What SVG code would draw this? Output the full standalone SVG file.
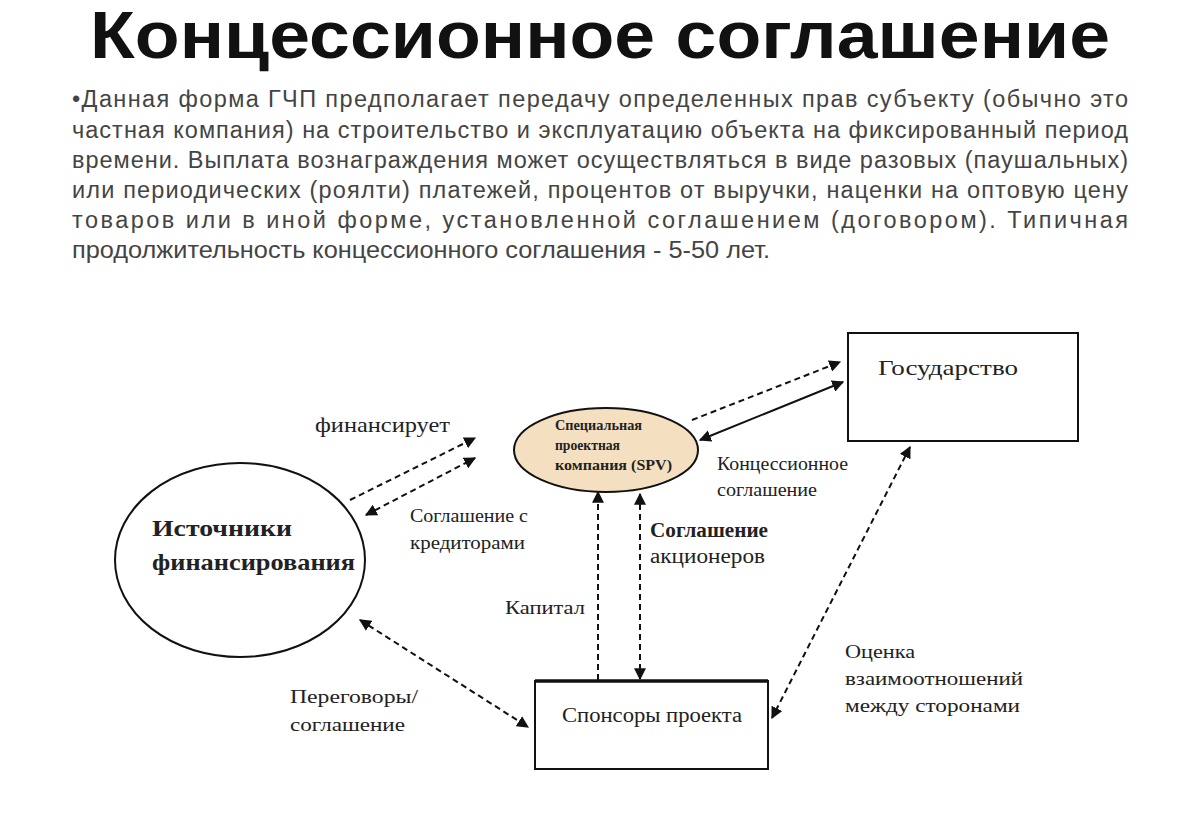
<svg xmlns="http://www.w3.org/2000/svg" width="1200" height="823" viewBox="0 0 1200 823">
<style>
.t{font-family:"Liberation Serif",serif;fill:#222}
.p{font-family:"Liberation Sans",Arial,sans-serif;font-size:23.5px;fill:#444}
.l{fill:none;stroke:#111;stroke-width:2;stroke-dasharray:6 4}
.s{fill:none;stroke:#111;stroke-width:2}
.n{fill:#fff;stroke:#111;stroke-width:2}
</style>
<defs>
<marker id="a" viewBox="0 0 10 10" refX="9" refY="5" markerWidth="6" markerHeight="6" orient="auto-start-reverse"><path d="M0,0L10,5L0,10z" fill="#111"/></marker>
</defs>
<rect width="1200" height="823" fill="#fff"/>
<text x="600" y="58" text-anchor="middle" font-family="Liberation Sans,Arial,sans-serif" font-weight="bold" font-size="66" fill="#111" textLength="1020" lengthAdjust="spacingAndGlyphs">Концессионное соглашение</text>
<text class="p" x="72" y="107" textLength="1056">•Данная форма ГЧП предполагает передачу определенных прав субъекту (обычно это</text>
<text class="p" x="72" y="138" textLength="1056">частная компания) на строительство и эксплуатацию объекта на фиксированный период</text>
<text class="p" x="72" y="168" textLength="1056">времени.  Выплата вознаграждения может осуществляться в виде разовых (паушальных)</text>
<text class="p" x="72" y="198" textLength="1056">или периодических (роялти) платежей, процентов от выручки, наценки на оптовую цену</text>
<text class="p" x="72" y="228" textLength="1056">товаров или в иной форме, установленной соглашением (договором). Типичная</text>
<text class="p" x="72" y="258" textLength="698" lengthAdjust="spacingAndGlyphs">продолжительность концессионного соглашения  - 5-50 лет.</text>
<g id="connectors">
<path class="l" d="M350,500L475,438" marker-end="url(#a)"/>
<path class="l" d="M366,515L475,458" marker-start="url(#a)" marker-end="url(#a)"/>
<path class="l" d="M692,420L840,362" marker-end="url(#a)"/>
<path class="s" d="M700,440L843,382" marker-start="url(#a)" marker-end="url(#a)"/>
<path class="l" d="M598,680L598,492" marker-end="url(#a)"/>
<path class="l" d="M640,494L640,679" marker-start="url(#a)" marker-end="url(#a)"/>
<path class="l" d="M360,620L528,727" marker-start="url(#a)" marker-end="url(#a)"/>
<path class="l" d="M910,447L772,718" marker-start="url(#a)" marker-end="url(#a)"/>
</g>
<g id="sources"><ellipse class="n" cx="240" cy="560" rx="125" ry="97"/>
<text class="t" x="152" y="536" font-weight="bold" font-size="23" textLength="140" lengthAdjust="spacingAndGlyphs">Источники</text>
<text class="t" x="152" y="570" font-weight="bold" font-size="23" textLength="203" lengthAdjust="spacingAndGlyphs">финансирования</text></g>
<g id="spv"><ellipse cx="606" cy="450" rx="92" ry="42" fill="#f4dfc1" stroke="#111" stroke-width="2"/>
<text class="t" x="555" y="430" font-weight="bold" font-size="15" textLength="87" lengthAdjust="spacingAndGlyphs">Специальная</text>
<text class="t" x="555" y="450" font-weight="bold" font-size="15" textLength="65" lengthAdjust="spacingAndGlyphs">проектная</text>
<text class="t" x="555" y="470" font-weight="bold" font-size="15" textLength="117" lengthAdjust="spacingAndGlyphs">компания (SPV)</text></g>
<g id="state"><rect class="n" x="848" y="333" width="230" height="108"/>
<text class="t" x="878" y="375" font-size="22" textLength="140" lengthAdjust="spacingAndGlyphs">Государство</text></g>
<g id="sponsors"><rect class="n" x="535" y="681" width="233" height="88"/>
<line x1="535" y1="681" x2="768" y2="681" stroke="#111" stroke-width="3.5"/>
<text class="t" x="562" y="722" font-size="20" textLength="180" lengthAdjust="spacingAndGlyphs">Спонсоры проекта</text></g>
<g id="labels">
<text class="t" x="315" y="432" font-size="22" textLength="135" lengthAdjust="spacingAndGlyphs">финансирует</text>
<text class="t" x="717" y="470" font-size="19" textLength="131" lengthAdjust="spacingAndGlyphs">Концессионное</text>
<text class="t" x="717" y="496" font-size="19" textLength="100" lengthAdjust="spacingAndGlyphs">соглашение</text>
<text class="t" x="410" y="522" font-size="19" textLength="118" lengthAdjust="spacingAndGlyphs">Соглашение с</text>
<text class="t" x="410" y="549" font-size="19" textLength="115" lengthAdjust="spacingAndGlyphs">кредиторами</text>
<text class="t" x="650" y="537" font-size="20" font-weight="bold" textLength="118" lengthAdjust="spacingAndGlyphs">Соглашение</text>
<text class="t" x="650" y="563" font-size="20" textLength="115" lengthAdjust="spacingAndGlyphs">акционеров</text>
<text class="t" x="505" y="614" font-size="19" textLength="80" lengthAdjust="spacingAndGlyphs">Капитал</text>
<text class="t" x="290" y="703" font-size="19" textLength="128" lengthAdjust="spacingAndGlyphs">Переговоры/</text>
<text class="t" x="290" y="731" font-size="19" textLength="115" lengthAdjust="spacingAndGlyphs">соглашение</text>
<text class="t" x="845" y="658" font-size="19" textLength="70" lengthAdjust="spacingAndGlyphs">Оценка</text>
<text class="t" x="845" y="685" font-size="19" textLength="178" lengthAdjust="spacingAndGlyphs">взаимоотношений</text>
<text class="t" x="845" y="712" font-size="19" textLength="175" lengthAdjust="spacingAndGlyphs">между сторонами</text>
</g>
</svg>
